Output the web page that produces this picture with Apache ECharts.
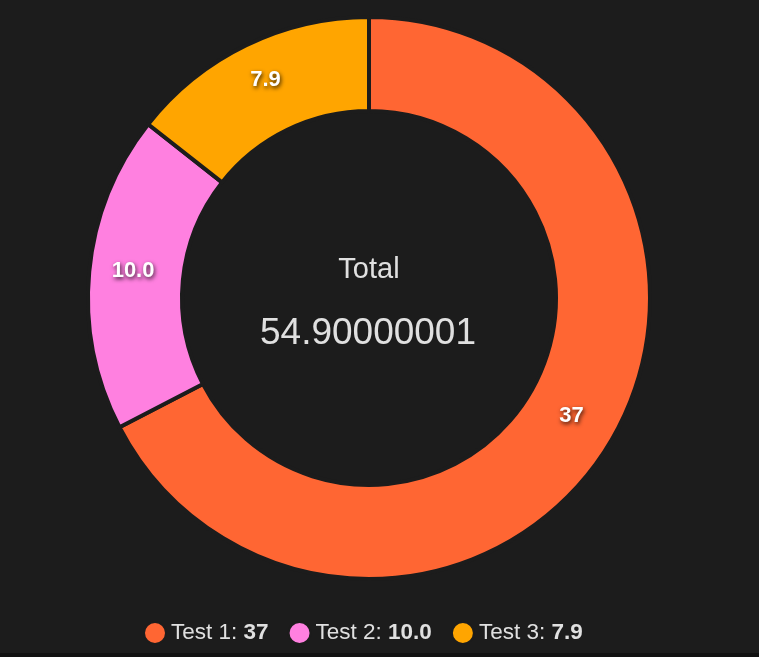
<!DOCTYPE html>
<html>
<head>
<meta charset="utf-8">
<script src="https://cdn.jsdelivr.net/npm/echarts@6/dist/echarts.min.js"></script>
<style>
html,body{margin:0;padding:0;background:#111111;}
#chart{width:759px;height:653px;background:#1c1c1c;}
</style>
</head>
<body>
<div id="chart"></div>
<script>
var categories = ['Test 1', 'Test 2', 'Test 3'];
var values = [37, 10.0, 7.9];
var valueLabels = ['37', '10.0', '7.9'];
var colors = ['#ff6633', '#ff80e0', '#ffa500'];
var totalTitle = 'Total';
var totalText = '54.90000001';

var FONT = '"Liberation Sans", Arial, Helvetica, sans-serif';
var chart = echarts.init(document.getElementById('chart'));
var data = categories.map(function (c, i) {
  return { name: c, value: values[i], itemStyle: { color: colors[i] } };
});
chart.setOption({
  backgroundColor: '#1c1c1c',
  animation: false,
  legend: {
    bottom: 8,
    left: 143,
    padding: 0,
    icon: 'circle',
    itemWidth: 22,
    itemHeight: 22,
    itemGap: 19,
    formatter: function (name) {
      var i = categories.indexOf(name);
      return '{n|' + name + ': }{v|' + valueLabels[i] + '}';
    },
    textStyle: {
      rich: {
        n: { color: '#e0e0e0', fontSize: 22.5, fontFamily: FONT },
        v: { color: '#e0e0e0', fontSize: 22.5, fontWeight: 'bold', fontFamily: FONT }
      }
    }
  },
  graphic: [
    { type: 'text', x: 369, y: 270, style: { text: totalTitle, fill: '#e0e0e0', fontSize: 29, fontFamily: FONT, align: 'center', verticalAlign: 'middle' } },
    { type: 'text', x: 368, y: 334, style: { text: totalText, fill: '#e0e0e0', fontSize: 37, fontFamily: FONT, align: 'center', verticalAlign: 'middle' } }
  ],
  series: [{
    type: 'pie',
    center: [369, 298],
    radius: [187, 281],
    startAngle: 90,
    clockwise: true,
    itemStyle: { borderColor: '#1c1c1c', borderWidth: 4 },
    label: {
      show: true,
      position: 'inside',
      offset: [0, -5],
      formatter: function (p) { return valueLabels[p.dataIndex]; },
      color: '#ffffff',
      fontSize: 22,
      fontWeight: 'bold',
      fontFamily: FONT,
      textShadowColor: 'rgba(0,0,0,0.8)',
      textShadowBlur: 4,
      textShadowOffsetX: 1,
      textShadowOffsetY: 2
    },
    labelLine: { show: false },
    emphasis: { disabled: true },
    data: data
  }]
});
</script>
</body>
</html>
